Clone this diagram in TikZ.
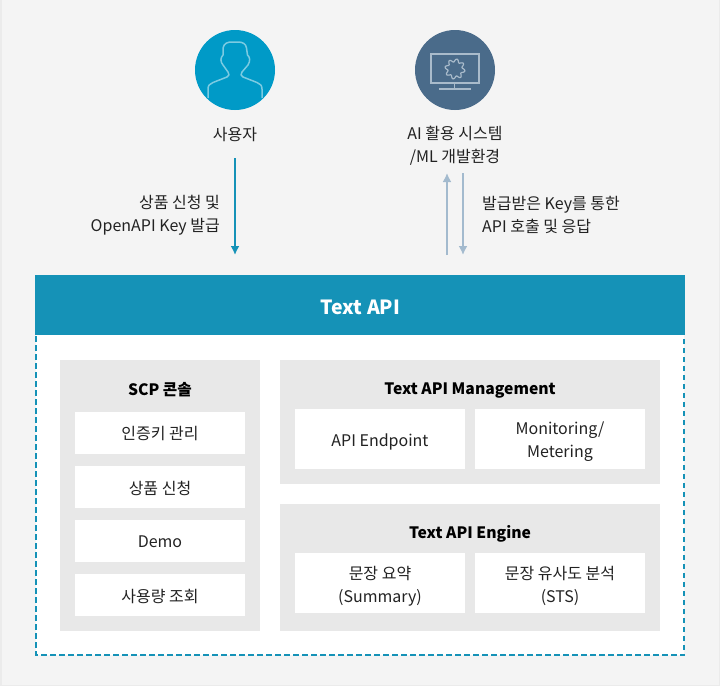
\documentclass[tikz,border=0pt]{standalone}
\usepackage{fontspec}
\setmainfont{Noto Sans CJK KR}
\usetikzlibrary{arrows,arrows.meta}
\definecolor{pagegray}{HTML}{F4F4F4}
\definecolor{pageedge}{HTML}{EBEBEB}
\definecolor{panelgray}{HTML}{E8E8E8}
\definecolor{barblue}{HTML}{1592B7}
\definecolor{userblue}{HTML}{009AC7}
\definecolor{sysblue}{HTML}{4A6B8A}
\definecolor{iconuser}{HTML}{7CCBE2}
\definecolor{iconsys}{HTML}{A9BBCB}
\definecolor{flowblue}{HTML}{A3BACE}
\definecolor{textgray}{HTML}{222222}
\tikzset{
	plaintext/.style={font=\fontsize{16}{23}\selectfont, text=textgray, align=center, inner sep=0pt},
	title/.style={plaintext, font=\fontsize{15.7}{23}\selectfont\bfseries, text=black},
	panel/.style={fill=panelgray, inner sep=0pt, outer sep=0pt},
	smallbox/.style={fill=white, inner sep=0pt, minimum width=170pt, minimum height=42pt},
	bigbox/.style={fill=white, inner sep=0pt, minimum width=170pt, minimum height=60pt},
	smalltext/.style={plaintext, yshift=-1pt},
	bigtext/.style={plaintext, yshift=-3pt},
	badge/.style={circle, inner sep=0pt, minimum size=80pt},
	flow/.style={-{Latex[length=9pt,width=9pt]}, line width=2pt}
}
\begin{document}
\begin{tikzpicture}[x=1pt,y=-1pt,>=latex]
	\useasboundingbox (0,0) rectangle (720,686);
	\draw [fill=pagegray, draw=pageedge, line width=1.5pt] (0.75,-2) rectangle (719.25,685.25);
	%Riquadro tratteggiato
	\fill [white] (36,335) rectangle (684,655);
	\draw [barblue, line width=2pt, dash pattern=on 5.5pt off 3.5pt] (36,336) -- (36,655) -- (684,655) -- (684,336);
	\node [panel, minimum width=650pt, minimum height=60pt, fill=barblue] (bar) at (360,305) {};
	\node [title, text=white, font=\fontsize{19.5}{24}\selectfont\bfseries] (bartext) at (360.5,307) {Text API};
	%Icone
	\node [badge, fill=userblue] (user) at (235,70) {};
	\node [badge, fill=sysblue] (system) at (455,70) {};
	\draw [iconuser, line width=1.5pt, line join=round] (208,98) -- (208,89) .. controls (208,85) and (210,84) .. (213,82.5)
		-- (227,77) .. controls (229.5,76) and (229.5,74) .. (228,72) -- (223,65) .. controls (220.5,62) and (220,58) .. (223,55)
		-- (223,48) .. controls (224,43) and (228,42) .. (232,42) -- (238,42) .. controls (243,42) and (246,44) .. (246.5,48)
		-- (247.5,55) .. controls (250,57) and (250.5,61) .. (248,65) -- (242,72) .. controls (240.5,74) and (240.5,76) .. (243,77)
		-- (257,82.5) .. controls (260,84) and (262,85) .. (262,89) -- (262,98);
	\draw [iconsys, line width=1.2pt] (431,54) rectangle (479,83);
	\draw [iconsys, line width=1.2pt] (454.5,83) -- (454.5,88) (439,89) -- (471,89);
	\draw [iconsys, line width=1.2pt, line join=round] plot [samples=97, domain=0:360, variable=\t] ({455+(8.6+1.5*sin(8*\t))*cos(\t)},{69+(8.6+1.5*sin(8*\t))*sin(\t)}) -- cycle;
	%Testi in alto
	\node [plaintext] (usertext) at (235,134.5) {사용자};
	\node [plaintext] (systemtext) at (455,145.5) {AI 활용 시스템\\/ML 개발환경};
	\node [plaintext, align=right, anchor=east] (requesttext) at (220,215) {상품 신청 및\\OpenAPI Key 발급};
	\node [plaintext, align=left, anchor=west] (calltext) at (482,215) {발급받은 Key를 통한\\API 호출 및 응답};
	%Frecce
	\coordinate (userstart) at (235,158);
	\coordinate (userend) at (235,255);
	\coordinate (upstart) at (447,255);
	\coordinate (upend) at (447,173);
	\coordinate (downstart) at (463,173);
	\coordinate (downend) at (463,255);
	\draw [flow, barblue] (userstart) -- (userend);
	\draw [flow, flowblue] (upstart) -- (upend);
	\draw [flow, flowblue] (downstart) -- (downend);
	%Colonna di sinistra
	\node [panel, minimum width=200pt, minimum height=271pt] (console) at (160,495.5) {};
	\node [title] (consoletext) at (160,389.5) {SCP 콘솔};
	\node [smallbox] (keys) at (160,433) {};
	\node [smalltext] (keystext) at (keys) {인증키 관리};
	\node [smallbox] (request) at (160,487) {};
	\node [smalltext] (requestboxtext) at (request) {상품 신청};
	\node [smallbox] (demo) at (160,541) {};
	\node [smalltext] (demotext) at (demo) {Demo};
	\node [smallbox] (usage) at (160,595) {};
	\node [smalltext] (usagetext) at (usage) {사용량 조회};
	%Management
	\node [panel, minimum width=380pt, minimum height=124pt] (management) at (470,422) {};
	\node [title] (managementtext) at (470,390.5) {Text API Management};
	\node [bigbox] (endpoint) at (380,439) {};
	\node [bigtext] (endpointtext) at (endpoint) {API Endpoint};
	\node [bigbox] (metering) at (560,439) {};
	\node [bigtext] (meteringtext) at (metering) {Monitoring/\\Metering};
	%Engine
	\node [panel, minimum width=380pt, minimum height=127pt] (engine) at (470,567.5) {};
	\node [title] (enginetext) at (470,533.5) {Text API Engine};
	\node [bigbox] (summary) at (380,583) {};
	\node [bigtext] (summarytext) at (summary) {문장 요약\\(Summary)};
	\node [bigbox] (similarity) at (560,583) {};
	\node [bigtext] (similaritytext) at (similarity) {문장 유사도 분석\\(STS)};
\end{tikzpicture}
\end{document}
